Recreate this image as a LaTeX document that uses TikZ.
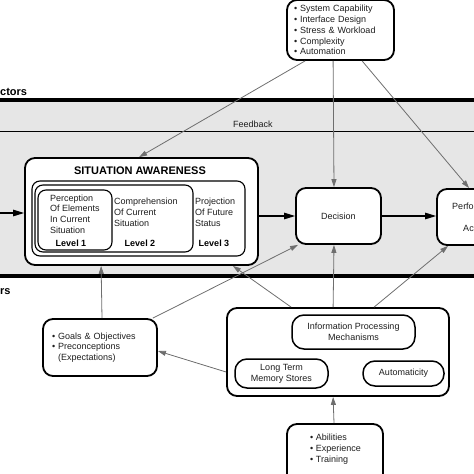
\documentclass[tikz,border=0pt]{standalone}
\usepackage{fontspec}
\setmainfont{Liberation Sans}
\usetikzlibrary{arrows.meta,calc}
\definecolor{bandgray}{HTML}{E6E6E6}
\definecolor{arrgray}{HTML}{6E6E6E}
\definecolor{txt}{HTML}{1E1E1E}
\begin{document}
\begin{tikzpicture}[x=1pt,y=-1pt,
  font=\fontsize{9}{10.8}\selectfont,
  bigbox/.style={draw=black, line width=1.8pt, fill=white, rounded corners=10pt, inner sep=0pt, text=txt},
  lvlbox/.style={draw=black, line width=1.1pt, rounded corners=8pt, inner sep=0pt},
  pill/.style={draw=black, line width=1.5pt, fill=white, rounded corners=12pt, inner sep=0pt, align=center, text=txt},
  txtnode/.style={inner sep=0pt, text=txt, align=left},
  lvllabel/.style={inner sep=0pt, font=\fontsize{9}{10.8}\selectfont\bfseries},
  sidelabel/.style={inner sep=0pt, anchor=west, font=\fontsize{11}{13}\selectfont\bfseries},
  blkarrow/.style={draw=black, line width=1.1pt, -{Triangle[length=11pt,width=6.5pt]}},
  grayarrow/.style={draw=arrgray, line width=0.8pt, -{Triangle[length=8pt,width=5pt]}},
  bandline/.style={draw=black, line width=3.5pt},
  fbline/.style={draw=black, line width=0.9pt},
]
\useasboundingbox (0,0) rectangle (474,474);
\clip (0,0) rectangle (474,474);

% band
\coordinate (bandTL) at (0,100);
\coordinate (bandBR) at (474,276);
\fill[bandgray] (bandTL) rectangle (bandBR);
\draw[bandline] (bandTL) -- (bandTL -| bandBR);
\draw[bandline] (bandTL |- bandBR) -- (bandBR);
\coordinate (fbL) at (0,131);
\coordinate (fbR) at (474,131);
\draw[fbline] (fbL) -- (fbR);
\node[txtnode, anchor=west] (fb) at (233,124) {Feedback};
\node[sidelabel] (tsf) at (0,92) {ctors};
\node[sidelabel] (indf) at (0,292) {rs};

% top box
\node[bigbox, text width=93pt, inner xsep=7pt, minimum height=60pt, align=left] (top) at (340.5,30)
  {• System Capability\\• Interface Design\\• Stress \& Workload\\• Complexity\\• Automation};

% situation awareness
\node[bigbox, minimum width=233pt, minimum height=107pt] (sa) at (141.5,211.5) {};
\node[inner sep=0pt, font=\fontsize{11}{13}\selectfont\bfseries] (satitle) at (140,171) {SITUATION AWARENESS};
\node[lvlbox, minimum width=213pt, minimum height=75pt] (lthree) at (138.5,218.5) {};
\node[lvlbox, minimum width=158pt, minimum height=67pt] (ltwo) at (114,218.5) {};
\node[lvlbox, minimum width=74pt, minimum height=60pt] (lone) at (75,220) {};
\node[txtnode, anchor=west] (lonetxt) at (50,214) {Perception\\Of Elements\\In Current\\Situation};
\node[txtnode, anchor=west] (ltwotxt) at (114,212) {Comprehension\\Of Current\\Situation};
\node[txtnode, anchor=west] (lthreetxt) at (195,212) {Projection\\Of Future\\Status};
\node[lvllabel] (lonelab) at (71,243) {Level 1};
\node[lvllabel] (ltwolab) at (140,243) {Level 2};
\node[lvllabel] (lthreelab) at (214,243) {Level 3};

% decision and performance
\node[bigbox, minimum width=85pt, minimum height=56pt] (dec) at (338.5,216) {Decision};
\node[bigbox, minimum width=82pt, minimum height=56pt, align=center] (perf) at (478,217) {Performance\\of\\Actions};

% goals
\node[bigbox, text width=96pt, inner xsep=9pt, minimum height=57pt, align=left] (goals) at (100,347.5)
  {• Goals \& Objectives\\• Preconceptions\\\hphantom{• }(Expectations)};

% individual box
\node[bigbox, minimum width=222pt, minimum height=88pt] (ind) at (338,352) {};
\node[pill, minimum width=123pt, minimum height=34pt] (ipm) at (353.5,332) {Information Processing\\Mechanisms};
\node[pill, minimum width=93pt, minimum height=29pt] (ltm) at (281.5,373.5) {Long Term\\Memory Stores};
\node[pill, minimum width=81pt, minimum height=25pt] (auto) at (403.5,373.5) {Automaticity};

% abilities
\node[bigbox, minimum width=96pt, minimum height=66pt] (abil) at (335,457) {};
\node[txtnode, anchor=west] (abiltxt) at (310,449) {• Abilities\\• Experience\\• Training};

% black arrows
\coordinate (inL) at (0,213);
\draw[blkarrow] (inL) -- (inL -| sa.west);
\draw[blkarrow] (sa.east |- dec.west) -- (dec.west);
\draw[blkarrow] (dec.east) -- (perf.west |- dec.east);

% gray arrows
\draw[grayarrow] ([xshift=19pt]top.south west) -- ([xshift=115pt]sa.north west);
\draw[grayarrow] ([xshift=47pt]top.south west) -- ([xshift=-4.5pt]dec.north);
\draw[grayarrow] ([xshift=76pt]top.south west) -- ([xshift=33pt]perf.north west);
\draw[grayarrow] ([xshift=107pt]ind.north west) -- ([xshift=-4.5pt]dec.south);
\draw[grayarrow] ([xshift=148pt]ind.north west) -- ([xshift=12pt]perf.south west);
\draw[grayarrow] ([xshift=65pt]ind.north west) -- ([xshift=-26pt]sa.south east);
\draw[grayarrow] ([xshift=-5pt]goals.north east) -- ([xshift=3pt]dec.south west);
\draw[grayarrow] ([xshift=2pt]goals.north) -- ([xshift=77pt]sa.south west);
\draw[grayarrow] ([yshift=-20pt]ind.west) -- ([yshift=-3.5pt]goals.east);
\draw[grayarrow] ([xshift=-1pt]abil.north) -- ([xshift=107pt]ind.south west);
\end{tikzpicture}
\end{document}
